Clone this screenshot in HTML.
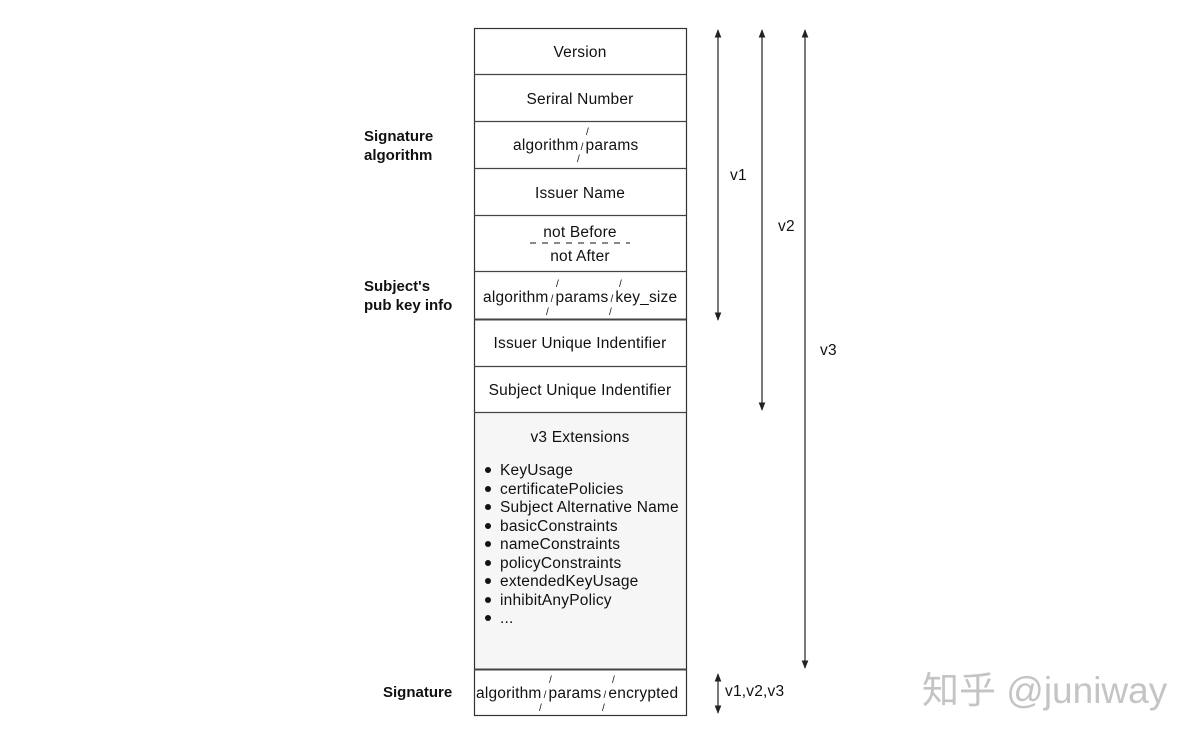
<!DOCTYPE html>
<html><head><meta charset="utf-8"><style>
html,body{margin:0;padding:0;background:#fff;width:1200px;height:741px;overflow:hidden}
svg text{font-family:"Liberation Sans",Arial,sans-serif;font-size:15.5px;letter-spacing:0.2px;fill:#111}
.b{font-weight:bold;font-size:15px;letter-spacing:0}
.s{font-size:10px}
</style></head><body>
<svg width="1200" height="741" xmlns="http://www.w3.org/2000/svg">
<defs><marker id="a" viewBox="0 0 10 10" refX="9" refY="5" markerWidth="7" markerHeight="7" orient="auto-start-reverse"><path d="M0,1 L10,5 L0,9 z" fill="#222"/></marker></defs>
<rect x="474" y="412" width="212" height="257" fill="#f6f6f6"/>
<rect x="474.5" y="28.5" width="212" height="687" fill="none" stroke="#333" stroke-width="1.2"/>
<g stroke="#444" stroke-width="1.2">
<line x1="474" y1="74.5" x2="686" y2="74.5"/><line x1="474" y1="121.5" x2="686" y2="121.5"/>
<line x1="474" y1="168.5" x2="686" y2="168.5"/><line x1="474" y1="215.5" x2="686" y2="215.5"/>
<line x1="474" y1="271.5" x2="686" y2="271.5"/><line x1="474" y1="319.5" x2="686" y2="319.5" stroke-width="2"/>
<line x1="474" y1="366.5" x2="686" y2="366.5"/><line x1="474" y1="412.5" x2="686" y2="412.5"/>
<line x1="474" y1="669.5" x2="686" y2="669.5" stroke-width="2"/>
<line x1="530" y1="243" x2="630" y2="243" stroke-dasharray="6,6"/>
</g>
<g text-anchor="middle">
<text x="580" y="57">Version</text>
<text x="580" y="104">Seriral Number</text>
<text x="580" y="198">Issuer Name</text>
<text x="580" y="237">not Before</text>
<text x="580" y="261">not After</text>
<text x="580" y="348">Issuer Unique Indentifier</text>
<text x="580" y="395">Subject Unique Indentifier</text>
<text x="580" y="442">v3 Extensions</text>
</g>
<text x="513" y="150">algorithm<tspan class="s" dx="2">/</tspan><tspan dx="2">params</tspan></text>
<text x="586" y="135" class="s">/</text><text x="577" y="162" class="s">/</text>
<text x="483" y="302">algorithm<tspan class="s" dx="2">/</tspan><tspan dx="2">params</tspan><tspan class="s" dx="2">/</tspan><tspan dx="2">key_size</tspan></text>
<text x="556" y="287" class="s">/</text><text x="546" y="315" class="s">/</text>
<text x="619" y="287" class="s">/</text><text x="609" y="315" class="s">/</text>
<text x="476" y="698">algorithm<tspan class="s" dx="2">/</tspan><tspan dx="2">params</tspan><tspan class="s" dx="2">/</tspan><tspan dx="2">encrypted</tspan></text>
<text x="549" y="683" class="s">/</text><text x="539" y="711" class="s">/</text>
<text x="612" y="683" class="s">/</text><text x="602" y="711" class="s">/</text>
<g>
<text x="500" y="475">KeyUsage</text>
<text x="500" y="494">certificatePolicies</text>
<text x="500" y="512">Subject Alternative Name</text>
<text x="500" y="531">basicConstraints</text>
<text x="500" y="549">nameConstraints</text>
<text x="500" y="568">policyConstraints</text>
<text x="500" y="586">extendedKeyUsage</text>
<text x="500" y="605">inhibitAnyPolicy</text>
<text x="500" y="623">...</text>
</g>
<g fill="#111">
<circle cx="488" cy="470" r="3"/><circle cx="488" cy="489" r="3"/><circle cx="488" cy="507" r="3"/>
<circle cx="488" cy="526" r="3"/><circle cx="488" cy="544" r="3"/><circle cx="488" cy="563" r="3"/>
<circle cx="488" cy="581" r="3"/><circle cx="488" cy="600" r="3"/><circle cx="488" cy="618" r="3"/>
</g>
<text x="364" y="141" class="b">Signature</text>
<text x="364" y="160" class="b">algorithm</text>
<text x="364" y="291" class="b">Subject's</text>
<text x="364" y="310" class="b">pub key info</text>
<text x="383" y="697" class="b">Signature</text>
<g stroke="#222" stroke-width="1.2">
<line x1="718" y1="30" x2="718" y2="320" marker-start="url(#a)" marker-end="url(#a)"/>
<line x1="762" y1="30" x2="762" y2="410" marker-start="url(#a)" marker-end="url(#a)"/>
<line x1="805" y1="30" x2="805" y2="668" marker-start="url(#a)" marker-end="url(#a)"/>
<line x1="718" y1="674" x2="718" y2="713" marker-start="url(#a)" marker-end="url(#a)"/>
</g>
<text x="730" y="180">v1</text>
<text x="778" y="231">v2</text>
<text x="820" y="355">v3</text>
<text x="725" y="696">v1,v2,v3</text>
<text x="922" y="703" style="font-family:'Liberation Sans','Noto Sans CJK SC',sans-serif;font-size:37px;letter-spacing:0;fill:#c4c4c4">知乎 @juniway</text>
</svg>
</body></html>
